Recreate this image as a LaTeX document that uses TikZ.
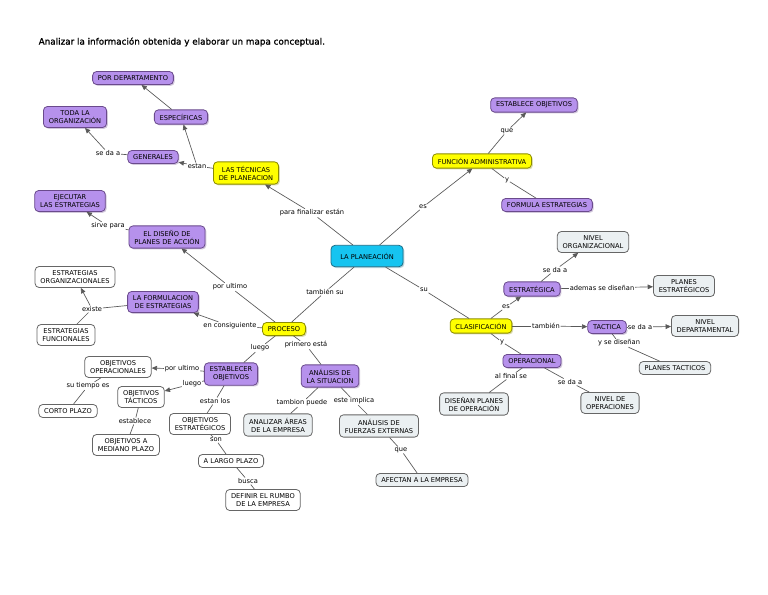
\documentclass[tikz,border=0pt]{standalone}
\usepackage{fontspec}
\setmainfont{DejaVu Sans}
\usetikzlibrary{arrows.meta,shadows}
\definecolor{purp}{HTML}{B691EC}
\definecolor{purpd}{HTML}{6A4A8C}
\definecolor{yel}{HTML}{FFFF00}
\definecolor{yeld}{HTML}{8C8C00}
\definecolor{cy}{HTML}{16C4F0}
\definecolor{cyd}{HTML}{1A6E88}
\definecolor{lgt}{HTML}{EBF0F2}
\definecolor{bg}{HTML}{FFFFFF}
\tikzset{
 base/.style={rounded corners=3pt,align=center,font=\fontsize{5}{6}\selectfont,inner xsep=4pt,inner ysep=3pt,line width=0.6pt},
 pur/.style={base,fill=purp,draw=purpd,drop shadow={shadow xshift=1pt,shadow yshift=-1pt,fill=purpd!60}},
 yl/.style={base,fill=yel,draw=yeld,drop shadow={shadow xshift=1pt,shadow yshift=-1pt,fill=yeld!60}},
 cyn/.style={base,fill=cy,draw=cyd,drop shadow={shadow xshift=1pt,shadow yshift=-1pt,fill=cyd!60}},
 wht/.style={base,fill=white,draw=gray!80!black},
 lg/.style={base,fill=lgt,draw=gray!80!black},
 lbl/.style={font=\fontsize{5}{6}\selectfont,inner sep=0.5pt,fill=bg},
 ln/.style={draw=black!65,line width=0.5pt},
 ar/.style={ln,-{Triangle[length=4pt,width=3.5pt]}}
}
\begin{document}
\begin{tikzpicture}[x=0.75pt,y=-0.75pt]
\useasboundingbox (0,0) rectangle (768,594);
\fill[bg] (0,0) rectangle (768,594);
\node[anchor=west,font=\fontsize{6.6}{8}\selectfont,text=black] (title) at (34,42) {\addfontfeature{FakeBold=1.2}Analizar la información obtenida y elaborar un mapa conceptual.};
% nodes
\node[cyn,minimum width=54pt,minimum height=16pt] (plan) at (367,256) {LA PLANEACIÓN};
\node[yl] (tec) at (246,173) {LAS TÉCNICAS\\DE PLANEACION};
\node[pur] (esp) at (181,117) {ESPECÍFICAS};
\node[pur] (pord) at (133,78) {POR DEPARTAMENTO};
\node[pur] (gen) at (153,157) {GENERALES};
\node[pur] (toda) at (75,117) {TODA LA\\ORGANIZACIÓN};
\node[pur] (ejec) at (70,201) {EJECUTAR\\LAS ESTRATEGIAS};
\node[pur] (dis) at (167,237) {EL DISEÑO DE\\PLANES DE ACCIÓN};
\node[wht] (eorg) at (75,277) {ESTRATEGIAS\\ORGANIZACIONALES};
\node[pur] (form) at (163,302) {LA FORMULACION\\DE ESTRATEGIAS};
\node[wht] (efun) at (66,335) {ESTRATEGIAS\\FUNCIONALES};
\node[yl] (proc) at (284,329) {PROCESO};
\node[pur] (estab) at (231,374) {ESTABLECER\\OBJETIVOS};
\node[pur] (anal) at (330,376) {ANÁLISIS DE\\LA SITUACION};
\node[wht] (oper) at (118,367) {OBJETIVOS\\OPERACIONALES};
\node[wht] (otac) at (141,397) {OBJETIVOS\\TÁCTICOS};
\node[wht] (corto) at (68,411) {CORTO PLAZO};
\node[wht] (omed) at (126,445) {OBJETIVOS A\\MEDIANO PLAZO};
\node[wht] (oest) at (200,424) {OBJETIVOS\\ESTRATÉGICOS};
\node[wht] (largo) at (231,461) {A LARGO PLAZO};
\node[wht] (defi) at (263,500) {DEFINIR EL RUMBO\\DE LA EMPRESA};
\node[lg] (areas) at (278,425) {ANALIZAR ÁREAS\\DE LA EMPRESA};
\node[lg] (fuer) at (379,426) {ANÁLISIS DE\\FUERZAS EXTERNAS};
\node[lg] (afec) at (422,480) {AFECTAN A LA EMPRESA};
\node[yl] (func) at (482,161) {FUNCIÓN ADMINISTRATIVA};
\node[pur] (eobj) at (534,105) {ESTABLECE OBJETIVOS};
\node[pur] (fest) at (547,205) {FORMULA ESTRATEGIAS};
\node[yl] (clas) at (481,326) {CLASIFICACIÓN};
\node[pur] (estr) at (532,289) {ESTRATÉGICA};
\node[lg] (norg) at (593,242) {NIVEL\\ORGANIZACIONAL};
\node[lg] (pest) at (684,286) {PLANES\\ESTRATÉGICOS};
\node[pur] (tact) at (607,327) {TACTICA};
\node[lg] (ndep) at (705,326) {NIVEL\\DEPARTAMENTAL};
\node[lg] (ptac) at (675,368) {PLANES TACTICOS};
\node[pur] (opc) at (532,361) {OPERACIONAL};
\node[lg] (dpo) at (474,404) {DISEÑAN PLANES\\DE OPERACIÓN};
\node[lg] (nop) at (610,403) {NIVEL DE\\OPERACIONES};
% labels
\node[lbl] (l1) at (312,213) {para finalizar están};
\node[lbl] (l2) at (197,166) {estan};
\node[lbl] (l3) at (108,153) {se da a};
\node[lbl] (l4) at (325,292) {también su};
\node[lbl] (l5) at (230,287) {por ultimo};
\node[lbl] (l6) at (108,226) {sirve para};
\node[lbl] (l7) at (230,326) {en consiguiente};
\node[lbl] (l8) at (92,309) {existe};
\node[lbl] (l9) at (260,348) {luego};
\node[lbl] (l10) at (306,345) {primero está};
\node[lbl] (l11) at (182,369) {por ultimo};
\node[lbl] (l12) at (192,384) {luego};
\node[lbl] (l13) at (215,401) {estan los};
\node[lbl] (l14) at (88,386) {su tiempo es};
\node[lbl] (l15) at (135,421) {establece};
\node[lbl] (l16) at (216,440) {son};
\node[lbl] (l17) at (248,481) {busca};
\node[lbl] (l18) at (302,403) {tambion puede};
\node[lbl] (l19) at (354,401) {este implica};
\node[lbl] (l20) at (401,450) {que};
\node[lbl] (l21) at (423,207) {es};
\node[lbl] (l22) at (507,131) {que};
\node[lbl] (l23) at (507,180) {y};
\node[lbl] (l24) at (424,290) {su};
\node[lbl] (l25) at (506,307) {es};
\node[lbl] (l26) at (555,270) {se da a};
\node[lbl] (l27) at (602,288) {ademas se diseñan};
\node[lbl] (l28) at (546,326) {también};
\node[lbl] (l29) at (640,327) {se da a};
\node[lbl] (l30) at (619,343) {y se diseñan};
\node[lbl] (l31) at (502,342) {y};
\node[lbl] (l32) at (511,376) {al final se};
\node[lbl] (l33) at (570,382) {se da a};
% connectors
\draw[ln] (plan) -- (l1); \draw[ar] (l1) -- (tec);
\draw[ln] (tec) -- (l2); \draw[ar] (l2) -- (gen); \draw[ar] (l2) -- (esp);
\draw[ar] (esp) -- (pord);
\draw[ln] (gen) -- (l3); \draw[ar] (l3) -- (toda);
\draw[ln] (plan) -- (l4); \draw[ln] (l4) -- (proc);
\draw[ln] (proc) -- (l5); \draw[ar] (l5) -- (dis);
\draw[ln] (dis) -- (l6); \draw[ar] (l6) -- (ejec);
\draw[ln] (proc) -- (l7); \draw[ar] (l7) -- (form);
\draw[ln] (form) -- (l8); \draw[ar] (l8) -- (eorg); \draw[ln] (l8) -- (efun);
\draw[ln] (proc) -- (l9); \draw[ln] (l9) -- (estab);
\draw[ln] (proc) -- (l10); \draw[ln] (l10) -- (anal);
\draw[ln] (estab) -- (l11); \draw[ar] (l11) -- (oper);
\draw[ln] (estab) -- (l12); \draw[ar] (l12) -- (otac);
\draw[ln] (estab) -- (l13); \draw[ln] (l13) -- (oest);
\draw[ln] (oper) -- (l14); \draw[ln] (l14) -- (corto);
\draw[ln] (otac) -- (l15); \draw[ln] (l15) -- (omed);
\draw[ln] (oest) -- (l16); \draw[ln] (l16) -- (largo);
\draw[ln] (largo) -- (l17); \draw[ln] (l17) -- (defi);
\draw[ln] (anal) -- (l18); \draw[ln] (l18) -- (areas);
\draw[ln] (anal) -- (l19); \draw[ln] (l19) -- (fuer);
\draw[ln] (fuer) -- (l20); \draw[ln] (l20) -- (afec);
\draw[ln] (plan) -- (l21); \draw[ar] (l21) -- (func);
\draw[ln] (func) -- (l22); \draw[ar] (l22) -- (eobj);
\draw[ln] (func) -- (l23); \draw[ln] (l23) -- (fest);
\draw[ln] (plan) -- (l24); \draw[ln] (l24) -- (clas);
\draw[ln] (clas) -- (l25); \draw[ar] (l25) -- (estr);
\draw[ln] (estr) -- (l26); \draw[ar] (l26) -- (norg);
\draw[ln] (estr) -- (l27); \draw[ar] (l27) -- (pest);
\draw[ln] (clas) -- (l28); \draw[ar] (l28) -- (tact);
\draw[ln] (tact) -- (l29); \draw[ar] (l29) -- (ndep);
\draw[ln] (tact) -- (l30); \draw[ln] (l30) -- (ptac);
\draw[ln] (clas) -- (l31); \draw[ln] (l31) -- (opc);
\draw[ln] (opc) -- (l32); \draw[ln] (l32) -- (dpo);
\draw[ln] (opc) -- (l33); \draw[ln] (l33) -- (nop);
\end{tikzpicture}
\end{document}
